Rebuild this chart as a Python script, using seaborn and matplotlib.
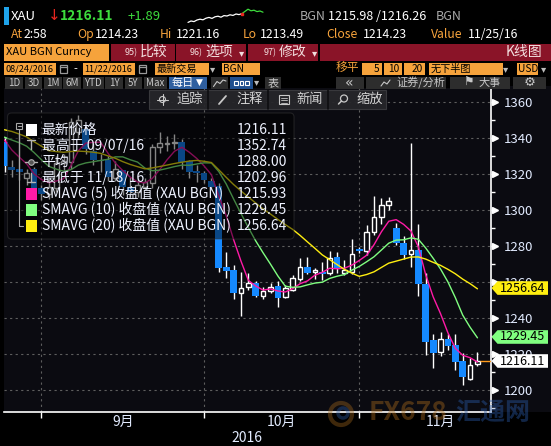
import numpy as np
import pandas as pd
import matplotlib
matplotlib.use('Agg')
import matplotlib.pyplot as plt
import matplotlib.transforms as mtransforms
from matplotlib.patches import Rectangle, FancyBboxPatch, Polygon, Circle
import seaborn as sns

# XAU BGN daily candles, 08/24/2016 .. 11/22/2016
opens = [1338.0, 1324.0, 1322.5, 1317.6, 1323.0, 1312.0,
         1309.0, 1312.0, 1326.0, 1326.5, 1343.5, 1345.0, 1333.0, 1328.0, 1328.0, 1318.0, 1322.0,
         1313.0, 1310.0, 1313.0, 1315.0, 1335.2, 1336.8, 1337.0, 1338.0, 1327.2, 1321.8, 1320.4,
         1316.0, 1313.5, 1268.5, 1266.7, 1254.0, 1257.0, 1259.3, 1252.4, 1255.2, 1257.8, 1251.5,
         1255.6, 1261.7, 1268.5, 1265.7, 1265.7, 1264.8, 1273.7, 1265.2, 1265.4, 1278.2,
         1277.0, 1288.0, 1296.3, 1302.6, 1290.0, 1281.5, 1275.4, 1277.8, 1258.7, 1227.8, 1220.9,
         1228.1, 1225.0, 1216.3, 1205.9, 1214.23]
highs = [1340.0, 1328.0, 1342.0, 1323.0, 1324.0, 1314.0,
         1318.0, 1330.0, 1331.0, 1351.0, 1352.74, 1347.0, 1337.0, 1331.0, 1330.0, 1327.0, 1322.5,
         1318.5, 1318.0, 1318.0, 1336.5, 1343.5, 1341.0, 1342.0, 1339.5, 1328.0, 1325.0, 1321.5,
         1318.0, 1315.0, 1276.8, 1269.4, 1265.7, 1264.8, 1260.5, 1257.4, 1259.3, 1260.6, 1258.3,
         1263.9, 1273.1, 1274.0, 1267.6, 1271.3, 1277.2, 1276.9, 1272.2, 1283.7, 1279.5,
         1291.7, 1307.8, 1306.5, 1307.4, 1293.0, 1285.6, 1337.0, 1292.0, 1265.2, 1231.1, 1232.0,
         1231.0, 1231.0, 1220.7, 1218.0, 1221.16]
lows = [1321.0, 1318.5, 1316.5, 1314.0, 1310.0, 1305.5,
        1306.0, 1310.0, 1322.0, 1323.0, 1340.0, 1331.0, 1325.0, 1321.0, 1316.0, 1316.0, 1308.5,
        1307.0, 1307.0, 1311.0, 1312.0, 1331.5, 1333.0, 1334.0, 1323.0, 1318.0, 1315.7, 1315.0,
        1311.0, 1265.5, 1262.0, 1250.4, 1241.1, 1255.6, 1251.5, 1250.4, 1253.7, 1246.3, 1251.0,
        1255.0, 1260.7, 1264.5, 1261.4, 1261.1, 1264.0, 1264.8, 1263.9, 1264.5, 1276.0,
        1275.0, 1286.0, 1292.0, 1300.0, 1280.5, 1272.6, 1268.5, 1252.4, 1219.3, 1212.0, 1219.0,
        1222.2, 1211.0, 1202.96, 1205.5, 1213.49]
closes = [1324.5, 1322.0, 1321.3, 1320.4, 1312.0, 1309.0,
          1313.0, 1326.0, 1327.0, 1349.0, 1349.8, 1334.0, 1328.0, 1327.5, 1318.5, 1322.5, 1313.0,
          1310.0, 1314.0, 1315.7, 1335.0, 1337.4, 1337.4, 1337.6, 1326.8, 1321.3, 1320.4, 1316.5,
          1313.0, 1268.0, 1266.3, 1254.0, 1256.8, 1259.3, 1252.4, 1255.0, 1257.4, 1250.9, 1256.5,
          1262.0, 1268.5, 1265.2, 1266.7, 1264.3, 1273.5, 1267.0, 1266.7, 1275.4, 1277.1,
          1288.0, 1296.3, 1302.6, 1304.8, 1281.5, 1275.0, 1277.8, 1258.7, 1226.9, 1220.7, 1228.1,
          1224.6, 1215.7, 1207.4, 1213.9, 1216.11]
# closes before the window, only needed to start the moving averages
prior_closes = [1341, 1350, 1352, 1366, 1358, 1363, 1336, 1335, 1340, 1346,
                1338, 1336, 1340, 1347, 1349, 1350, 1341, 1339, 1340]

sma_windows = [5, 10, 20]
sma_colors = ['#ff1aa6', '#80ff80', '#ffee10']
sma_last = [1215.93, 1229.45, 1256.64]
last_price = 1216.11

legend_labels = ['最新价格', '最高于 09/07/16', '平均', '最低于 11/18/16',
                 'SMAVG (5) 收盘值 (XAU BGN)', 'SMAVG (10) 收盘值 (XAU BGN)',
                 'SMAVG (20) 收盘值 (XAU BGN)']
legend_values = ['1216.11', '1352.74', '1288.00', '1202.96', '1215.93', '1229.45', '1256.64']

y_ticks = [1200, 1220, 1240, 1260, 1280, 1300, 1320, 1340, 1360]
month_labels = ['9月', '10月', '11月']
year_label = '2016'

# intraday sparkline in the quote line
spark_white = [1209.8, 1210.5, 1210.2, 1211.0, 1211.4, 1211.1, 1211.9, 1212.3, 1211.8, 1212.6,
               1212.9, 1212.4, 1213.2, 1213.0, 1213.6, 1213.3, 1214.0, 1213.7, 1214.2]
spark_green = [1214.2, 1215.3, 1216.4, 1215.6, 1215.9, 1215.2, 1215.5, 1214.9]

dates = pd.bdate_range('2016-08-24', '2016-11-22')
df = pd.DataFrame({'day': np.arange(len(dates)), 'open': opens, 'high': highs,
                   'low': lows, 'close': closes}, index=dates)
df['up'] = df['close'] >= df['open']

sns.set_theme(style='dark')
CJK = ['Noto Sans CJK SC', 'DejaVu Sans']
plt.rcParams['font.family'] = CJK
plt.rcParams['axes.unicode_minus'] = False

W, H = 551, 446
BG = '#0b0b11'
ORANGE = '#f6a33c'
DRED = '#8a1428'
fig = plt.figure(figsize=(W / 100, H / 100), dpi=100, facecolor='#000000')


def frect(x0, y0, x1, y1):
    return [x0 / W, 1 - y1 / H, (x1 - x0) / W, (y1 - y0) / H]


# backdrop for the price-label column right of the chart
fig.patches.append(Rectangle((490.7 / W, 1 - 412 / H), (W - 490.7) / W, (412 - 86) / H,
                             transform=fig.transFigure, facecolor=BG, edgecolor='none', zorder=-1))

ax = fig.add_axes(frect(4, 88, 490.7, 412))
ax.set_facecolor(BG)

# candles
ax.vlines(df['day'], df['low'], df['high'], color='white', lw=1, zorder=2)
dn = df[~df['up']]
up = df[df['up']]
ax.bar(dn['day'], dn['open'] - dn['close'], bottom=dn['close'], width=0.92,
       color='#1589ff', lw=0, zorder=3)
ax.bar(up['day'], up['close'] - up['open'], bottom=up['open'], width=0.62,
       facecolor=BG, edgecolor='white', lw=1, zorder=3)

# moving averages of the close
all_close = pd.Series(prior_closes + closes, dtype=float)
for w, col in zip(sma_windows, sma_colors):
    sma = all_close.rolling(w).mean().iloc[len(prior_closes):].to_numpy()
    sns.lineplot(x=df['day'].to_numpy(), y=sma, ax=ax, color=col, lw=1, zorder=4)

# last price line
px0, pdx = 4.5, 7.39
xmin, xmax = (4 - px0) / pdx, (490.7 - px0) / pdx
ax.hlines(last_price, df['day'].iloc[-1] + 0.35, xmax, color='#ff9a1a', lw=1, zorder=4)

ax.set_xlim(xmin, xmax)
ax.set_ylim(1300 - (412 - 210) / 1.8, 1300 + (210 - 88) / 1.8)
ax.set_xlabel('')
ax.set_ylabel('')

# month boundaries = last trading day of previous month
bounds = [i - 1 for i in range(1, len(dates)) if dates[i].month != dates[i - 1].month]
ax.set_xticks(bounds)
ax.set_xticklabels([])
ax.yaxis.tick_right()
ax.set_yticks(y_ticks)
ax.set_yticklabels([str(v) for v in y_ticks])
ax.set_yticks(np.arange(1190, 1370, 20), minor=True)
ax.grid(True, which='major', color='#5e5e5e', linestyle=(0, (2, 3)), lw=0.8)
ax.set_axisbelow(True)
ax.tick_params(axis='y', which='major', right=True, left=False, labelright=True, labelleft=False,
               length=3, width=1, color='white', pad=6.5, labelsize=9.5, labelcolor='#e2ebff')
ax.tick_params(axis='y', which='minor', right=True, left=False, length=3, width=1, color='white')
ax.tick_params(axis='x', bottom=True, length=4, width=1, color='white', direction='out')
for s in ['left', 'top']:
    ax.spines[s].set_visible(False)
for s in ['right', 'bottom']:
    ax.spines[s].set_visible(True)
    ax.spines[s].set_color('white')
    ax.spines[s].set_linewidth(1.2)

# small arrow heads on the major ticks
tri = mtransforms.blended_transform_factory(ax.transAxes, ax.transData) + \
    mtransforms.ScaledTranslation(4.5 / 100, 0, fig.dpi_scale_trans)
ax.plot([1.0] * len(y_ticks), y_ticks, ls='none', marker='>', ms=4.5, color='white',
        transform=tri, clip_on=False, zorder=6)

# month and year labels
blend = mtransforms.blended_transform_factory(ax.transData, ax.transAxes)
for k, lab in enumerate(month_labels):
    m = dates[bounds[k] + 1]
    n_days = len(pd.bdate_range(m, m + pd.offsets.MonthEnd(0)))
    ax.text(bounds[k] + n_days / 2, -10 / 324, lab, transform=blend, ha='center', va='center',
            fontsize=10, color='#e2ebff', zorder=7)
ax.text((xmin + xmax) / 2, -26 / 324, year_label, transform=blend, ha='center', va='center',
        fontsize=10, color='#e2ebff')

# ---------------- overlay in pixel coordinates ----------------
ui = fig.add_axes([0, 0, 1, 1], zorder=5)
ui.set_xlim(0, W)
ui.set_ylim(H, 0)
ui.axis('off')


def box(x0, x1, y0, y1, fc, **kw):
    ui.add_patch(Rectangle((x0, y0), x1 - x0, y1 - y0, facecolor=fc, edgecolor='none', **kw))


def txt(x, y, s, c='white', fs=9, ha='left', fam=None, **kw):
    ui.text(x, y, s, color=c, fontsize=fs, ha=ha, va='center', family=fam or CJK, **kw)


def ypix(v):
    return H - ax.transData.transform((0, v))[1]


# header background
box(0, W, 0, 86, '#000000')

# row 1: quote line
box(4.2, 8.8, 7, 25, '#1fa3ea')
txt(11, 16, 'XAU', fs=9.5)
txt(48, 16, '↓', c='#e8251f', fs=11, fam=['DejaVu Sans'])
txt(60, 16, '1216.11', c='#3ddc3d', fs=10, weight='bold')
txt(128, 16, '+1.89', c='#3ddc3d', fs=9.5)
lo_s, hi_s = 1209.0, 1217.0
sw = np.linspace(188, 242, len(spark_white))
sg = np.linspace(242, 263, len(spark_green))
ui.plot(sw, 24 - (np.array(spark_white) - lo_s) / (hi_s - lo_s) * 16, color='white', lw=0.9)
ui.plot(sg, 24 - (np.array(spark_green) - lo_s) / (hi_s - lo_s) * 16, color='#3ddc3d', lw=0.9)
ui.plot([242], [24 - (spark_green[0] - lo_s) / (hi_s - lo_s) * 16], marker='s', ms=2,
        color='#e8251f')
txt(300, 16, 'BGN', c='#a8a8a8', fs=9)
txt(328, 16, '1215.98 /1216.26', fs=9)
txt(436, 16, 'BGN', c='#a8a8a8', fs=9)

# row 2
for x, s, c in [(10.5, 'At', ORANGE), (24, '2:58', 'white'), (77, 'Op', ORANGE),
                (95, '1214.23', 'white'), (160, 'Hi', ORANGE), (176, '1221.16', 'white'),
                (243, 'Lo', ORANGE), (260, '1213.49', 'white'), (326, 'Close', ORANGE),
                (363, '1214.23', 'white'), (431, 'Value', ORANGE), (468, '11/25/16', 'white')]:
    txt(x, 34.5, s, c=c, fs=8.8)

# row 3
r3a, r3b = 43.5, 60.5
box(3.5, 109, r3a, r3b, ORANGE)
txt(5.5, 52, 'XAU BGN Curncy', c='black', fs=8)
for x0, x1 in [(110.7, 175), (176.4, 246), (247.7, 318), (319.8, W)]:
    box(x0, x1, r3a, r3b, DRED)
for x, num, s, arrow in [(124.5, '95)', '比较', False), (190, '96)', '选项', True),
                         (263.5, '97)', '修改', True)]:
    txt(x, 52.5, num, c='#f2dede', fs=6.5)
    txt(x + 15.5, 52, s, c='#f2dede', fs=10)
    if arrow:
        txt(x + 48.5, 53, '▾', c='#f2dede', fs=7.5, fam=['DejaVu Sans'])
txt(542, 52, 'K线图', c='#f2dede', fs=10, ha='right')

# row 4
r4a, r4b, r4 = 62.5, 75, 68.8
for x0, x1, s, f in [(3.5, 56, '08/24/2016', 6.6), (82.6, 135, '11/22/2016', 6.6),
                     (154.6, 209, '最新交易', 7.3), (222, 260, 'BGN', 7.3),
                     (429.4, 502.5, '无下半图', 7.3), (516.5, 537.6, 'USD', 7.3)]:
    box(x0, x1, r4a, r4b, ORANGE)
    txt(x0 + 1.5, r4, s, c='black', fs=f)
for x0 in [60, 139]:
    ui.add_patch(Rectangle((x0, 65), 6.5, 7.5, facecolor='none', edgecolor='#9a9a9a', lw=0.9))
    ui.plot([x0, x0 + 6.5], [67, 67], color='#9a9a9a', lw=0.9)
txt(73.5, r4, '-', fs=8)
for x in [212.5, 506, 543.5]:
    txt(x, r4, '▾', c='#bbbbbb', fs=7.5, ha='center', fam=['DejaVu Sans'])
txt(335.6, r4, '移平', c=ORANGE, fs=8.5)
for x0, x1, s in [(362, 382, '5'), (383.7, 402, '10'), (404, 425, '20')]:
    box(x0, x1, r4a, r4b, ORANGE)
    txt(x1 - 2.5, r4, s, c='black', fs=7.3, ha='right')

# row 5
r5a, r5b, r5 = 77, 88.5, 82.6
for x0, x1, s in [(5, 23, '1D'), (24.6, 42, '3D'), (44, 61.5, '1M'), (63, 81, '6M'),
                  (82.6, 103.7, 'YTD'), (105, 123, '1Y'), (124.7, 142, '5Y'), (144, 167, 'Max')]:
    box(x0, x1, r5a, r5b, '#2d2d2d')
    txt((x0 + x1) / 2, r5, s, c='#c8c8c8', fs=7, ha='center')
box(168.7, 207.3, r5a, r5b, '#2f5f9f')
txt(172, r5, '每日', c='white', fs=8)
txt(199, r5, '▼', c='white', fs=6.5, ha='center', fam=['DejaVu Sans'])
box(211, 228, r5a, r5b, '#2d2d2d')
ui.plot([213.5, 217, 220, 223, 226], [86.5, 81.5, 83.5, 80, 81], color='#c8c8c8', lw=0.8)
box(230, 253, r5a, r5b, '#1f4f8f')
for cx in [236, 241.5, 247]:
    ui.add_patch(Rectangle((cx - 1.6, 80.5), 3.2, 4.5, facecolor='none', edgecolor='white', lw=0.8))
txt(257, r5, '▾', c='#bbbbbb', fs=7.5, ha='center', fam=['DejaVu Sans'])
box(265, 281, r5a, r5b, '#2d2d2d')
txt(273, r5, '表', c='#c8c8c8', fs=8, ha='center')
for x0, x1 in [(335.6, 363.7), (365.5, 446), (450, 509.5), (513, 546)]:
    box(x0, x1, r5a, r5b, '#2d2d2d')
txt(349.5, r5, '«', c='#c8c8c8', fs=10, ha='center', fam=['DejaVu Sans'])
ui.plot([381, 384, 387, 390], [86, 82, 84, 80], color='#c8c8c8', lw=0.8)
txt(396, r5, '证券/分析', c='#c8c8c8', fs=8)
txt(468, r5, '⚑', c='#c8c8c8', fs=8.5, ha='center', fam=['DejaVu Sans'])
txt(478, r5, '大事', c='#c8c8c8', fs=8)
txt(529.5, r5, '⚙', c='#c8c8c8', fs=9.5, ha='center', fam=['DejaVu Sans'])

# chart toolbar
ui.add_patch(Rectangle((148.5, 89.5), 237.5, 19, facecolor='#26262a', edgecolor='#3a3a3e',
                       lw=0.8, alpha=0.95))
for xs in [208, 268, 328]:
    ui.plot([xs, xs], [90, 108.5], color='#0e0e10', lw=1.2)
ui.add_patch(Circle((162.5, 99.5), 3, facecolor='none', edgecolor='#c8c8c8', lw=0.8))
ui.plot([157, 168], [99.5, 99.5], color='#c8c8c8', lw=0.8)
ui.plot([162.5, 162.5], [94, 105], color='#c8c8c8', lw=0.8)
ui.plot([219, 226], [104, 96], color='#c8c8c8', lw=1.3)
ui.add_patch(Rectangle((279, 95), 10, 9, facecolor='none', edgecolor='#c8c8c8', lw=0.8))
for yy in [97.5, 100, 102.5]:
    ui.plot([281, 287], [yy, yy], color='#c8c8c8', lw=0.6)
ui.add_patch(Circle((344, 98.5), 3.5, facecolor='none', edgecolor='#c8c8c8', lw=0.9))
ui.plot([341.5, 338.5], [101, 104], color='#c8c8c8', lw=1.1)
for x, s in [(176.5, '追踪'), (236.5, '注释'), (296.5, '新闻'), (356, '缩放')]:
    txt(x, 99.5, s, c='#d4d4d4', fs=9.5)

# legend panel over the chart
ui.add_patch(FancyBboxPatch((7.5, 113), 286.5, 126, boxstyle='round,pad=0,rounding_size=4',
                            facecolor='#000000', edgecolor='#3c3c3c', lw=0.8, alpha=0.48))
rows = [129.5 + 16 * k for k in range(len(legend_labels))]
ui.add_patch(Rectangle((16, 122.5), 6, 6, facecolor='none', edgecolor='#a8a8a8', lw=0.8))
ui.plot([17.5, 20.5], [125.5, 125.5], color='#a8a8a8', lw=0.8)
ui.plot([19, 19], [128.5, rows[-1]], color='#a8a8a8', lw=0.8)
ui.plot([19, 23], [rows[-1], rows[-1]], color='#a8a8a8', lw=0.8)
icon_colors = ['#ffffff', None, None, None] + sma_colors
for k, (y, lab, val) in enumerate(zip(rows, legend_labels, legend_values)):
    if icon_colors[k]:
        ui.add_patch(Rectangle((25.5, y - 6), 11.5, 12, facecolor=icon_colors[k], edgecolor='none'))
    txt(41.5, y, lab, c='#eef2ff', fs=10)
    txt(287, y, val, c='#eef2ff', fs=10, ha='right')
g = '#b4b4b4'
ui.plot([27, 35], [rows[1] - 6, rows[1] - 6], color=g, lw=1)
ui.plot([31, 31], [rows[1] - 6, rows[1] + 3], color=g, lw=1)
ui.plot([25, 37], [rows[2], rows[2]], color=g, lw=1)
ui.plot([31], [rows[2]], marker='o', ms=4, mfc='#555555', mec=g, mew=0.8)
ui.plot([31, 31], [rows[3] - 5, rows[3] + 4], color=g, lw=1)
ui.plot([27, 35], [rows[3] + 4, rows[3] + 4], color=g, lw=1)

# value tags on the price axis
for val, fc in [(sma_last[2], sma_colors[2]), (sma_last[1], sma_colors[1]), (last_price, '#ffffff')]:
    y = ypix(val)
    ui.add_patch(Polygon([(491.5, y), (497.5, y - 6.8), (548, y - 6.8), (548, y + 6.8),
                          (497.5, y + 6.8)], closed=True, facecolor=fc, edgecolor='none'))
    txt(499.5, y, f'{val:.2f}', c='black', fs=9)

# watermark
ui.add_patch(Circle((341, 414), 11, facecolor='none', edgecolor='#a0661c', lw=3, alpha=0.4))
ui.add_patch(Circle((343, 413), 5, facecolor='none', edgecolor='#2a5aa0', lw=2.5, alpha=0.4))
ui.text(369, 413, 'FX678', color='#a8691c', alpha=0.42, fontsize=19, weight='bold',
        va='center', ha='left', family=CJK)
ui.text(455, 413, '汇通网', color='#2a5aa8', alpha=0.42, fontsize=18, weight='bold',
        va='center', ha='left', family=CJK)

fig.savefig('out.png', dpi=100, facecolor=fig.get_facecolor())
